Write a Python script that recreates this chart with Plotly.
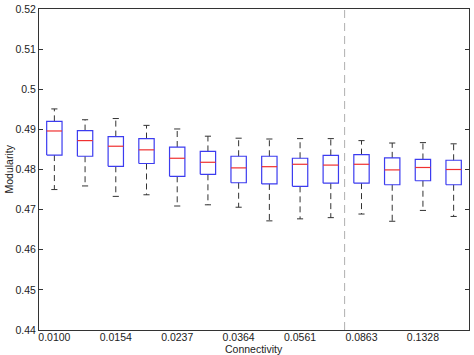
import plotly.graph_objects as go

# Data
tick_labels = ["0.0100", "0.0154", "0.0237", "0.0364", "0.0561", "0.0863", "0.1328"]
tick_positions = [1, 3, 5, 7, 9, 11, 13]
positions = list(range(1, 15))
upper_whisker = [0.4951, 0.4924, 0.4927, 0.4910, 0.4901, 0.4883, 0.4878,
                 0.4876, 0.4877, 0.4877, 0.4872, 0.4866, 0.4867, 0.4864]
q3 = [0.4920, 0.4897, 0.4882, 0.4877, 0.4856, 0.4845, 0.4833,
      0.4833, 0.4828, 0.4835, 0.4837, 0.4829, 0.4825, 0.4823]
median = [0.4896, 0.4872, 0.4858, 0.4849, 0.4828, 0.4818, 0.4804,
          0.4807, 0.4813, 0.4811, 0.4813, 0.4799, 0.4805, 0.4800]
q1 = [0.4836, 0.4833, 0.4808, 0.4815, 0.4783, 0.4788, 0.4767,
      0.4764, 0.4758, 0.4766, 0.4766, 0.4762, 0.4772, 0.4762]
lower_whisker = [0.4750, 0.4759, 0.4733, 0.4737, 0.4709, 0.4712, 0.4706,
                 0.4672, 0.4677, 0.4680, 0.4689, 0.4671, 0.4698, 0.4683]
divider_position = 10.45
y_ticks = [0.44, 0.45, 0.46, 0.47, 0.48, 0.49, 0.50, 0.51, 0.52]
y_tick_text = ["0.44", "0.45", "0.46", "0.47", "0.48", "0.49", "0.5", "0.51", "0.52"]
x_title = "Connectivity"
y_title = "Modularity"

half_box = 0.25
half_cap = 0.1

box_x, box_y = [], []
med_x, med_y = [], []
wh_x, wh_y = [], []
cap_x, cap_y = [], []
for p, uw, u, m, l, lw in zip(positions, upper_whisker, q3, median, q1, lower_whisker):
    box_x += [p - half_box, p + half_box, p + half_box, p - half_box, p - half_box, None]
    box_y += [l, l, u, u, l, None]
    med_x += [p - half_box, p + half_box, None]
    med_y += [m, m, None]
    wh_x += [p, p, None, p, p, None]
    wh_y += [u, uw, None, l, lw, None]
    cap_x += [p - half_cap, p + half_cap, None, p - half_cap, p + half_cap, None]
    cap_y += [uw, uw, None, lw, lw, None]

fig = go.Figure()
fig.add_trace(go.Scatter(x=wh_x, y=wh_y, mode="lines",
                         line=dict(color="#333333", width=1, dash="6px,4px"),
                         hoverinfo="skip", showlegend=False))
fig.add_trace(go.Scatter(x=cap_x, y=cap_y, mode="lines",
                         line=dict(color="#333333", width=1),
                         hoverinfo="skip", showlegend=False))
fig.add_trace(go.Scatter(x=box_x, y=box_y, mode="lines",
                         line=dict(color="#3c3cf0", width=1.2),
                         hoverinfo="skip", showlegend=False))
fig.add_trace(go.Scatter(x=med_x, y=med_y, mode="lines",
                         line=dict(color="#f03030", width=1.2),
                         hoverinfo="skip", showlegend=False))
fig.add_trace(go.Scatter(x=[divider_position, divider_position], y=[0.44, 0.52], mode="lines",
                         line=dict(color="#b0b0b0", width=1, dash="8px,5px"),
                         hoverinfo="skip", showlegend=False))

font = dict(family="Liberation Sans, Arial, sans-serif", size=10.5, color="#222222")

fig.update_layout(
    width=474, height=355,
    margin=dict(l=39, r=5, t=9, b=25),
    paper_bgcolor="white", plot_bgcolor="white",
    font=font,
    showlegend=False,
    xaxis=dict(range=[0.5, 14.5], tickmode="array", tickvals=tick_positions,
               ticktext=tick_labels, showgrid=False, zeroline=False,
               showline=True, linecolor="#333333", linewidth=1, mirror=True,
               ticks="", tickfont=font, automargin=False, ticklabelstandoff=-3),
    yaxis=dict(range=[0.44, 0.52], tickmode="array", tickvals=y_ticks,
               ticktext=y_tick_text, showgrid=False, zeroline=False,
               showline=True, linecolor="#333333", linewidth=1, mirror="allticks",
               ticks="inside", ticklen=4, tickcolor="#333333", tickfont=font,
               automargin=False),
    annotations=[
        dict(text=x_title, xref="paper", yref="paper", x=0.5, y=0,
             yshift=-11, yanchor="top", showarrow=False, font=font),
        dict(text=y_title, xref="paper", yref="paper", x=0, y=0.5,
             xshift=-31, xanchor="center", textangle=-90, showarrow=False, font=font),
    ],
)

fig.write_html("out.html",
               config={"displayModeBar": False, "staticPlot": True},
               post_script="document.body.style.margin='0';document.body.style.overflow='hidden';")
